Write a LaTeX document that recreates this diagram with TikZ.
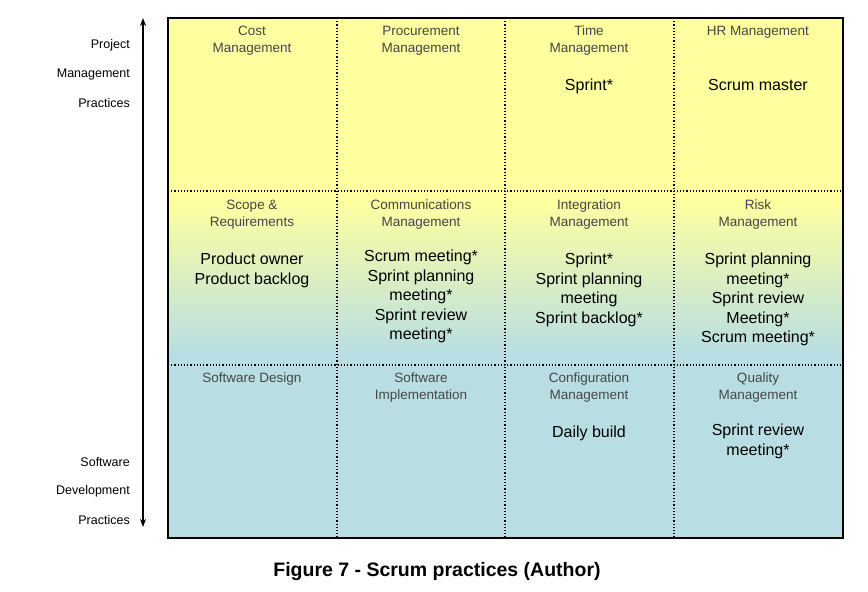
\documentclass[tikz,border=0pt]{standalone}
\usepackage{fontspec}
\setmainfont{Liberation Sans}
\usetikzlibrary{arrows.meta}
\definecolor{yel}{RGB}{255,255,160}
\definecolor{blu}{RGB}{184,222,228}
\definecolor{hdr}{RGB}{70,70,70}
\begin{document}
\begin{tikzpicture}[x=1pt,y=-1pt,
  hd/.style={font=\fontsize{13.5}{17}\selectfont,text=hdr,align=center,anchor=north,inner sep=0pt},
  bd/.style={font=\fontsize{16}{19.5}\selectfont,align=center,anchor=north,inner sep=0pt},
  lb/.style={font=\fontsize{12.5}{16}\selectfont,anchor=east,inner sep=0pt}]
\useasboundingbox (0,0) rectangle (868,592);
\fill[yel] (168,18) rectangle (843,200);
\shade[top color=yel,bottom color=blu] (168,200) rectangle (843,355);
\fill[blu] (168,355) rectangle (843,538);
\foreach \x in {337,505,674}{\draw[dotted,line width=1.2pt] (\x,18) -- (\x,538);}
\foreach \y in {191,365}{\draw[dotted,line width=1.2pt] (168,\y) -- (843,\y);}
\draw[line width=2pt] (168,18) rectangle (843,538);
\coordinate (at) at (143,18); \coordinate (ab) at (143,527);
\draw[line width=1.8pt,{Stealth[length=8pt]}-{Stealth[length=8pt]}] (at) -- (ab);
\node[lb] (l1) at (130,45) {Project};
\node[lb] (l2) at (130,74) {Management};
\node[lb] (l3) at (130,103) {Practices};
\node[lb] (l4) at (130,462) {Software};
\node[lb] (l5) at (130,491) {Development};
\node[lb] (l6) at (130,520) {Practices};
% row 1
\node[hd] (h11) at (252,26) {Cost\\Management};
\node[hd] (h12) at (421,26) {Procurement\\Management};
\node[hd] (h13) at (589,26) {Time\\Management};
\node[hd] (h14) at (758,26) {HR Management};
\node[bd] (b13) at (589,79) {Sprint*};
\node[bd] (b14) at (758,79) {Scrum master};
% row 2
\node[hd] (h21) at (252,200) {Scope \&\\Requirements};
\node[hd] (h22) at (421,200) {Communications\\Management};
\node[hd] (h23) at (589,200) {Integration\\Management};
\node[hd] (h24) at (758,200) {Risk\\Management};
\node[bd] (b21) at (252,253) {Product owner\\Product backlog};
\node[bd] (b22) at (421,250) {Scrum meeting*\\Sprint planning\\meeting*\\Sprint review\\meeting*};
\node[bd] (b23) at (589,253) {Sprint*\\Sprint planning\\meeting\\Sprint backlog*};
\node[bd] (b24) at (758,253) {Sprint planning\\meeting*\\Sprint review\\Meeting*\\Scrum meeting*};
% row 3
\node[hd] (h31) at (252,373) {Software Design};
\node[hd] (h32) at (421,373) {Software\\Implementation};
\node[hd] (h33) at (589,373) {Configuration\\Management};
\node[hd] (h34) at (758,373) {Quality\\Management};
\node[bd] (b33) at (589,426) {Daily build};
\node[bd] (b34) at (758,424) {Sprint review\\meeting*};
\node[font=\fontsize{19.5}{22}\selectfont\bfseries,inner sep=0pt] (cap) at (437,571) {Figure 7 - Scrum practices (Author)};
\end{tikzpicture}
\end{document}
